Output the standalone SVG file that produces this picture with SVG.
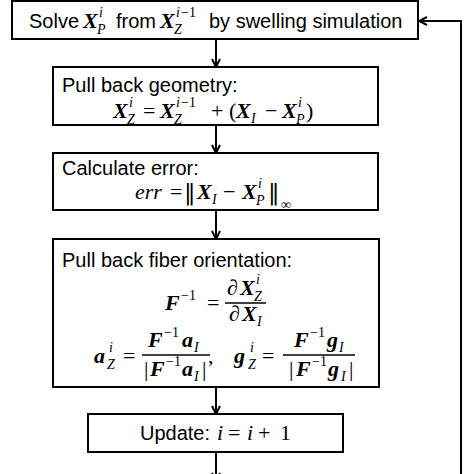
<svg xmlns="http://www.w3.org/2000/svg" width="474" height="474" viewBox="0 0 474 474">
<defs>
<style>
.box{fill:#fff;stroke:#000;stroke-width:2}
.t{font-family:"Liberation Sans",Arial,sans-serif;font-size:20px;fill:#000}
.mb{font-family:"Liberation Serif","Times New Roman",serif;font-size:22px;font-style:italic;font-weight:bold;fill:#000}
.mi{font-family:"Liberation Serif","Times New Roman",serif;font-size:22px;font-style:italic;fill:#000}
.mr{font-family:"Liberation Serif","DejaVu Serif",serif;font-size:22px;fill:#000}
.s{font-family:"Liberation Serif","Times New Roman",serif;font-size:14px;font-style:italic;fill:#000}
.sr{font-family:"Liberation Serif","DejaVu Serif",serif;font-size:14px;fill:#000}
.nb{font-family:"DejaVu Serif",serif;font-size:23px;fill:#000}
.c{fill:none;stroke:#000;stroke-width:2}
.bar{stroke:#000;stroke-width:1.3}
</style>
<marker id="ah" viewBox="0 0 10 10" refX="10" refY="5" markerWidth="10" markerHeight="10" markerUnits="userSpaceOnUse" orient="auto">
<path d="M2,1 L10,5 L2,9" fill="none" stroke="#000" stroke-width="2"/>
</marker>
</defs>
<rect width="474" height="474" fill="#fff"/>
<g id="connectors">
<line class="c" x1="216" y1="39" x2="216" y2="67" marker-end="url(#ah)"/>
<line class="c" x1="216" y1="125" x2="216" y2="153" marker-end="url(#ah)"/>
<line class="c" x1="216" y1="210" x2="216" y2="239" marker-end="url(#ah)"/>
<line class="c" x1="216" y1="387" x2="216" y2="414" marker-end="url(#ah)"/>
<line class="c" x1="216" y1="452" x2="216" y2="481" marker-end="url(#ah)"/>
<path class="c" d="M461,480 V21 H419" marker-end="url(#ah)"/>
</g>
<g id="n1">
<rect class="box" x="12" y="1" width="406" height="38"/>
<text class="t" x="29" y="28">Solve</text>
<text class="mb" x="83" y="28">X</text>
<text class="s" x="99" y="17">i</text>
<text class="s" x="97" y="34">P</text>
<text class="t" x="116" y="28">from</text>
<text class="mb" x="160" y="28">X</text>
<text class="s" x="176" y="17">i</text>
<text class="sr" x="181" y="17">−1</text>
<text class="s" x="174" y="34">Z</text>
<text class="t" x="209" y="28">by swelling simulation</text>
</g>
<g id="n2">
<rect class="box" x="53" y="67" width="325" height="58"/>
<text class="t" x="62" y="92">Pull back geometry:</text>
<text class="mb" x="113" y="118">X</text>
<text class="s" x="129" y="107">i</text>
<text class="s" x="127" y="124">Z</text>
<text class="mr" x="143" y="118">=</text>
<text class="mb" x="160" y="118">X</text>
<text class="s" x="176" y="107">i</text>
<text class="sr" x="181" y="107">−1</text>
<text class="s" x="174" y="124">Z</text>
<text class="mr" x="211" y="118">+</text>
<text class="mr" x="229" y="118">(</text>
<text class="mb" x="236" y="118">X</text>
<text class="s" x="251" y="123">I</text>
<text class="mr" x="265" y="118">−</text>
<text class="mb" x="282" y="118">X</text>
<text class="s" x="298" y="107">i</text>
<text class="s" x="296" y="124">P</text>
<text class="mr" x="306" y="118">)</text>
</g>
<g id="n3">
<rect class="box" x="53" y="153" width="325" height="57"/>
<text class="t" x="62" y="175">Calculate error:</text>
<text class="mi" x="135" y="199">err</text>
<text class="mr" x="170" y="199">=</text>
<text class="nb" x="184" y="200">‖</text>
<text class="mb" x="197" y="199">X</text>
<text class="s" x="212" y="204">I</text>
<text class="mr" x="223" y="199">−</text>
<text class="mb" x="242" y="199">X</text>
<text class="s" x="258" y="188">i</text>
<text class="s" x="256" y="205">P</text>
<text class="nb" x="268" y="200">‖</text>
<text class="sr" x="281" y="209">∞</text>
</g>
<g id="n4">
<rect class="box" x="53" y="239" width="326" height="148"/>
<text class="t" x="62" y="267">Pull back fiber orientation:</text>
<text class="mb" x="165" y="310">F</text>
<text class="sr" x="181" y="300">−1</text>
<text class="mr" x="207" y="310">=</text>
<text class="mi" x="227" y="295">∂</text>
<text class="mb" x="240" y="295">X</text>
<text class="s" x="256" y="284">i</text>
<text class="s" x="254" y="301">Z</text>
<line class="bar" x1="225" y1="303" x2="266" y2="303"/>
<text class="mi" x="229" y="321">∂</text>
<text class="mb" x="242" y="321">X</text>
<text class="s" x="257" y="326">I</text>
<text class="mb" x="94" y="363">a</text>
<text class="s" x="109" y="352">i</text>
<text class="s" x="107" y="369">Z</text>
<text class="mr" x="123" y="363">=</text>
<text class="mb" x="148" y="347">F</text>
<text class="sr" x="164" y="337">−1</text>
<text class="mb" x="182" y="347">a</text>
<text class="s" x="194" y="352">I</text>
<line class="bar" x1="142" y1="355" x2="210" y2="355"/>
<text class="mr" x="144" y="376">|</text>
<text class="mb" x="150" y="376">F</text>
<text class="sr" x="166" y="366">−1</text>
<text class="mb" x="182" y="376">a</text>
<text class="s" x="194" y="381">I</text>
<text class="mr" x="202" y="376">|</text>
<text class="mr" x="208" y="363">,</text>
<text class="mb" x="234" y="363">g</text>
<text class="s" x="250" y="352">i</text>
<text class="s" x="248" y="369">Z</text>
<text class="mr" x="262" y="363">=</text>
<text class="mb" x="294" y="347">F</text>
<text class="sr" x="310" y="337">−1</text>
<text class="mb" x="327" y="347">g</text>
<text class="s" x="339" y="352">I</text>
<line class="bar" x1="283" y1="355" x2="355" y2="355"/>
<text class="mr" x="289" y="376">|</text>
<text class="mb" x="296" y="376">F</text>
<text class="sr" x="312" y="366">−1</text>
<text class="mb" x="328" y="376">g</text>
<text class="s" x="341" y="381">I</text>
<text class="mr" x="349" y="376">|</text>
</g>
<g id="n5">
<rect class="box" x="88" y="414" width="255" height="38"/>
<text class="t" x="140" y="440">Update:</text>
<text class="mi" x="217" y="440">i</text>
<text class="mr" x="228" y="440">=</text>
<text class="mi" x="247" y="440">i</text>
<text class="mr" x="258" y="440">+</text>
<text class="mr" x="280" y="440">1</text>
</g>
</svg>
